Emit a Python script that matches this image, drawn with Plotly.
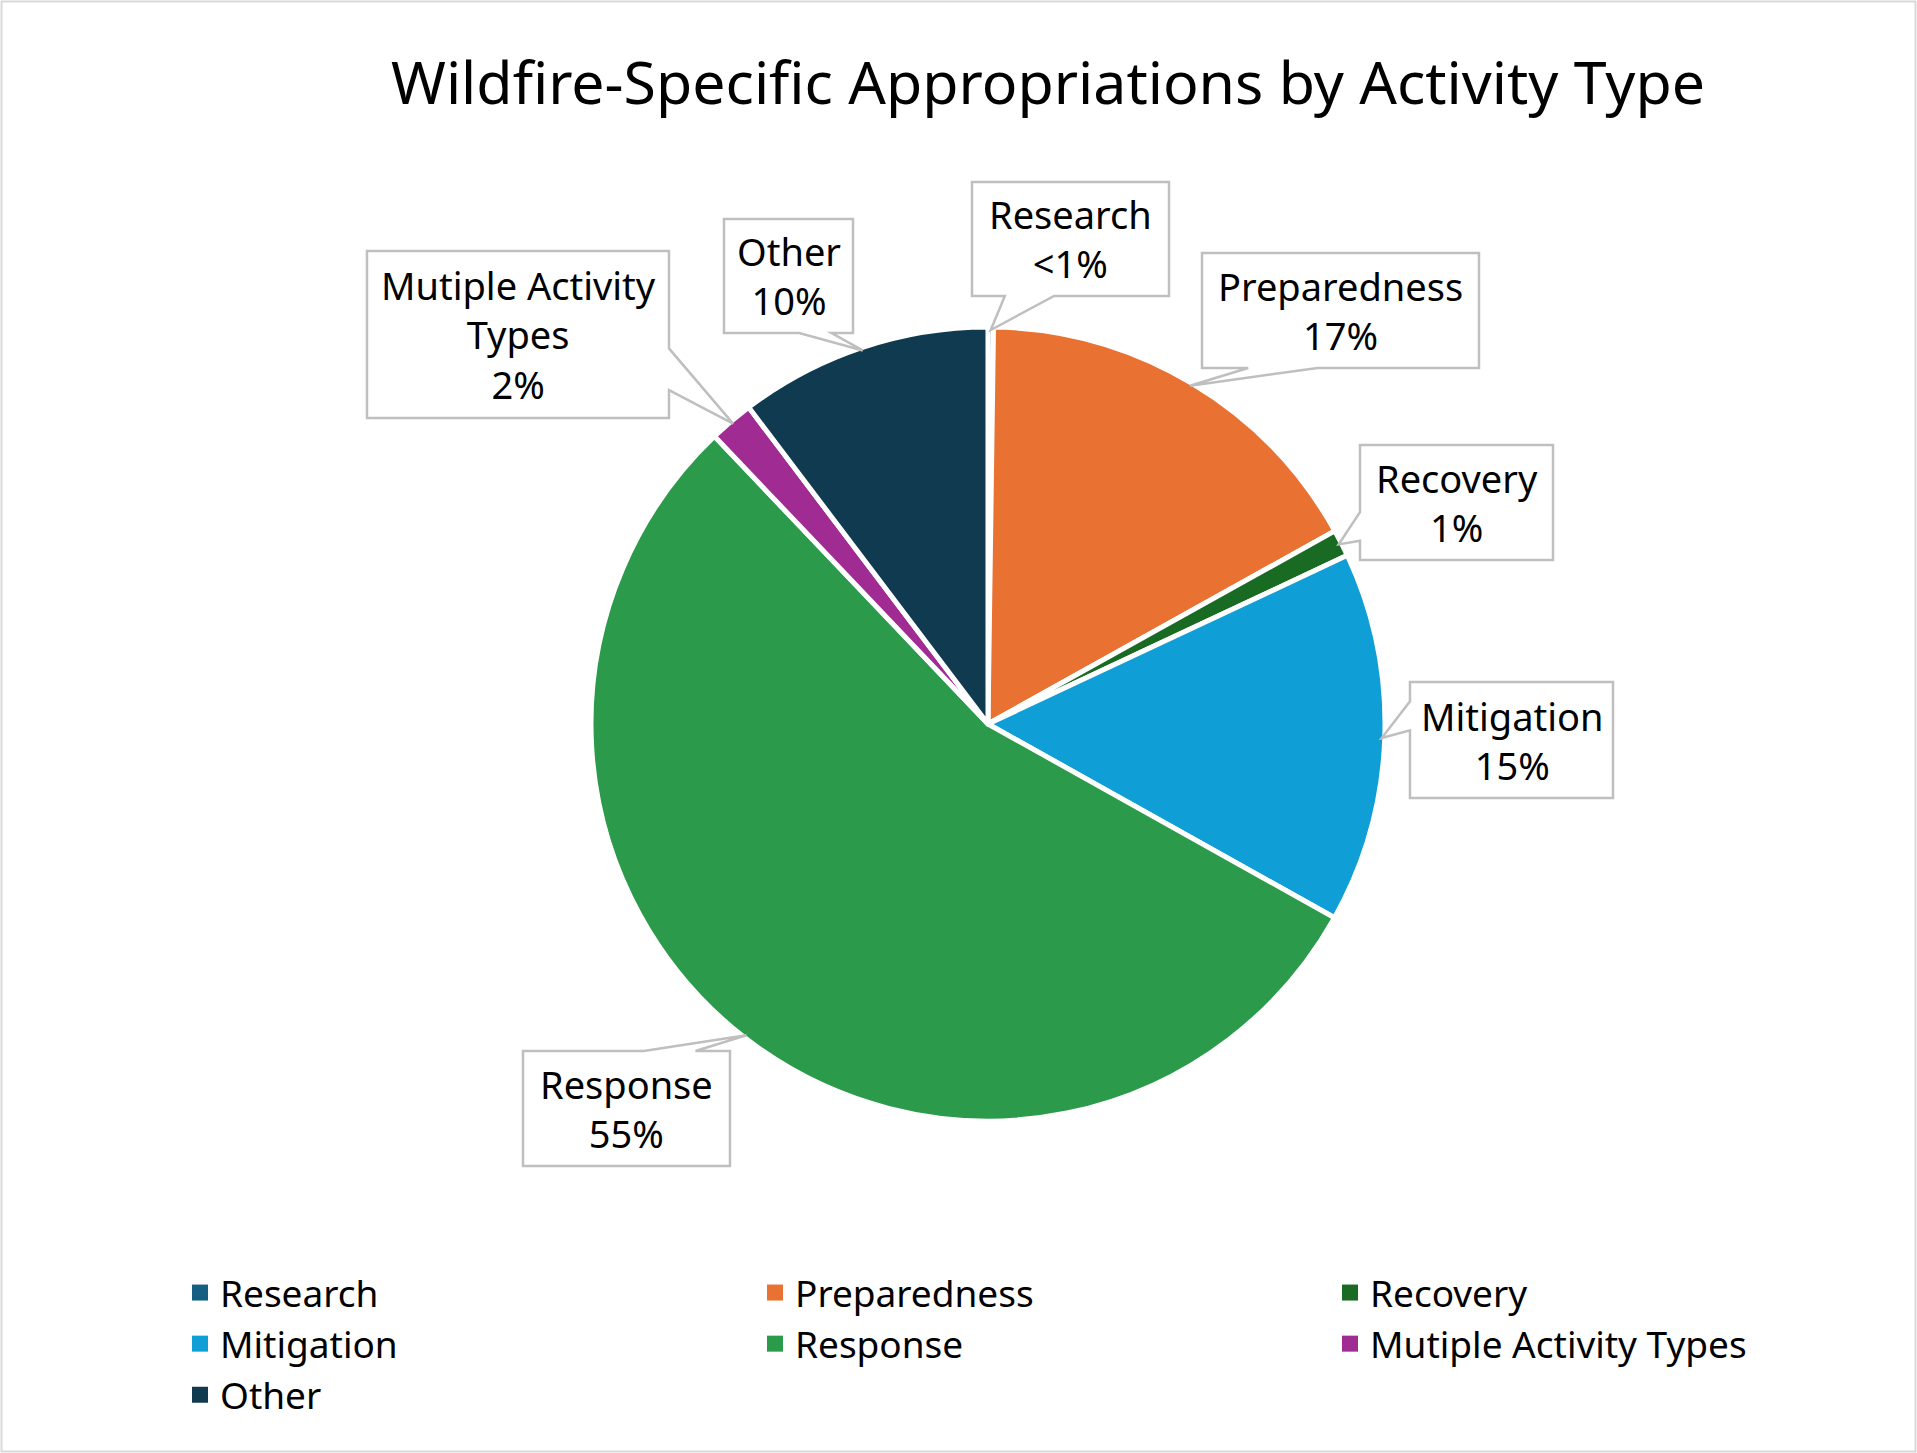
import math
import textwrap
import plotly.graph_objects as go

# Data (share of wildfire-specific appropriations, %)
categories = ["Research", "Preparedness", "Recovery", "Mitigation",
              "Response", "Mutiple Activity Types", "Other"]
shares = [0.22, 16.7, 1.1, 15.1, 54.8, 1.8, 10.3]
colors = ["#156082", "#E97132", "#196B24", "#0F9ED5",
          "#2B9A4B", "#A02B93", "#103A50"]

W, H = 1917, 1453
FONT = "Noto Sans"

# pie placement (pixels); plotly draws the pie a little inside its domain
cx, cy, r = 988, 724, 394
r_dom = 397

# callout boxes (pixels: left, top, right, bottom)
boxes = {
    "Research": (972, 182, 1169, 296),
    "Preparedness": (1202, 253, 1479, 368),
    "Recovery": (1360, 445, 1553, 560),
    "Mitigation": (1410, 682, 1613, 798),
    "Response": (523, 1051, 730, 1166),
    "Mutiple Activity Types": (367, 251, 669, 418),
    "Other": (724, 219, 853, 333),
}


def px(x):
    return x / W


def py(y):
    return 1 - y / H


def pct_text(v):
    return "<1%" if v < 1 else f"{round(v)}%"


def callout_path(box, tx, ty):
    # rectangle callout with a wedge pointing to (tx, ty), like Excel's wedgeRectCallout
    x0, y0, x1, y1 = box
    w, h = x1 - x0, y1 - y0
    hc, vc = (x0 + x1) / 2, (y0 + y1) / 2
    dxp, dyp = tx - hc, ty - vc
    xa, xb = (x0 + w * 2 / 12, x0 + w * 5 / 12) if dxp < 0 else (x0 + w * 7 / 12, x0 + w * 10 / 12)
    ya, yb = (y0 + h * 2 / 12, y0 + h * 5 / 12) if dyp < 0 else (y0 + h * 7 / 12, y0 + h * 10 / 12)
    if abs(dxp * h / w) > abs(dyp):
        if dxp < 0:
            pts = [(x0, y0), (x1, y0), (x1, y1), (x0, y1), (x0, yb), (tx, ty), (x0, ya)]
        else:
            pts = [(x0, y0), (x1, y0), (x1, ya), (tx, ty), (x1, yb), (x1, y1), (x0, y1)]
    else:
        if dyp < 0:
            pts = [(x0, y0), (xa, y0), (tx, ty), (xb, y0), (x1, y0), (x1, y1), (x0, y1)]
        else:
            pts = [(x0, y0), (x1, y0), (x1, y1), (xb, y1), (tx, ty), (xa, y1), (x0, y1)]
    return "M " + " L ".join(f"{px(a):.5f},{py(b):.5f}" for a, b in pts) + " Z"


fig = go.Figure(go.Pie(
    labels=categories,
    values=shares,
    sort=False,
    direction="clockwise",
    rotation=0,
    marker=dict(colors=colors, line=dict(color="white", width=5)),
    textinfo="none",
    hoverinfo="label+percent",
    showlegend=False,
    domain=dict(x=[px(cx - r_dom), px(cx + r_dom)], y=[py(cy + r_dom), py(cy - r_dom)]),
))

# legend entries with square swatches
for name, c in zip(categories, colors):
    fig.add_trace(go.Scatter(x=[None], y=[None], mode="markers", name=name,
                             marker=dict(symbol="square", size=16, color=c),
                             hoverinfo="skip"))

shapes = [dict(type="rect", xref="paper", yref="paper", x0=0.0008, y0=0.001, x1=0.9992, y1=0.999,
               line=dict(color="#D9D9D9", width=2), fillcolor="rgba(0,0,0,0)", layer="below")]
annotations = []
total = sum(shares)
cum = 0
for name, v in zip(categories, shares):
    mid = (cum + v / 2) / total * 2 * math.pi
    cum += v
    tx, ty = cx + r * math.sin(mid), cy - r * math.cos(mid)
    box = boxes[name]
    shapes.append(dict(type="path", xref="paper", yref="paper", path=callout_path(box, tx, ty),
                       fillcolor="white", line=dict(color="#BFBFBF", width=2.5)))
    label = "<br>".join(textwrap.wrap(name, 16)) + "<br>" + pct_text(v)
    annotations.append(dict(xref="paper", yref="paper",
                            x=px((box[0] + box[2]) / 2), y=py((box[1] + box[3]) / 2),
                            text=label, showarrow=False, xanchor="center", yanchor="middle",
                            font=dict(family=FONT, size=38, color="#000000")))

fig.update_layout(
    width=W, height=H,
    margin=dict(l=0, r=0, t=0, b=0),
    paper_bgcolor="white",
    plot_bgcolor="white",
    xaxis=dict(visible=False),
    yaxis=dict(visible=False),
    font=dict(family=FONT, color="#000000"),
    title=dict(text="Wildfire-Specific Appropriations by Activity Type",
               x=px(1048), xanchor="center", xref="paper",
               y=1 - 83 / H, yanchor="middle", yref="container",
               font=dict(family=FONT, size=59, color="#000000")),
    showlegend=True,
    legend=dict(orientation="h", x=px(180), xanchor="left", y=py(1262), yanchor="top",
                entrywidth=530, entrywidthmode="pixels", traceorder="normal",
                font=dict(family=FONT, size=37, color="#000000")),
    shapes=shapes,
    annotations=annotations,
)

fig.write_html("out.html", config={"displayModeBar": False},
               post_script="document.body.style.margin='0px';")
